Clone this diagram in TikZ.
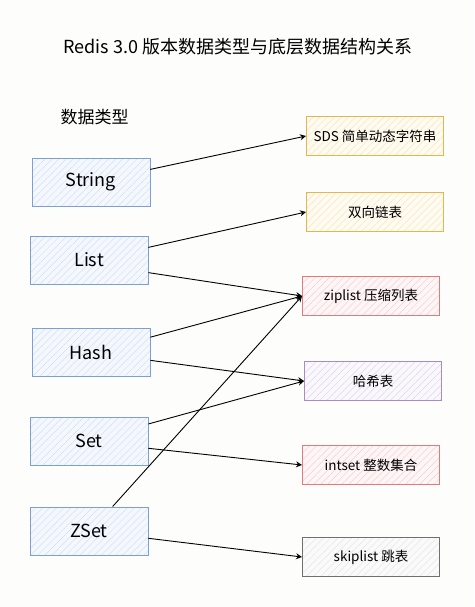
\documentclass[tikz,border=0pt]{standalone}
\usepackage{fontspec}
\setmainfont{Noto Sans CJK SC}
\usepackage{tikz}
\usetikzlibrary{arrows.meta,positioning,patterns.meta}

\definecolor{bg}{HTML}{FDFDFB}
\definecolor{blueline}{HTML}{7C9FD6}
\definecolor{bluefill}{HTML}{F4F8FD}
\definecolor{bluehatch}{HTML}{D3E0F3}
\definecolor{yellowline}{HTML}{E2B84A}
\definecolor{yellowfill}{HTML}{FFFBF0}
\definecolor{yellowhatch}{HTML}{F4E6C2}
\definecolor{redline}{HTML}{E07B7B}
\definecolor{redfill}{HTML}{FEF6F6}
\definecolor{redhatch}{HTML}{F4D0D0}
\definecolor{purpleline}{HTML}{A68BC4}
\definecolor{purplefill}{HTML}{FAF8FC}
\definecolor{purplehatch}{HTML}{E0D6EA}
\definecolor{grayline}{HTML}{707070}
\definecolor{grayfill}{HTML}{FAFAFA}
\definecolor{grayhatch}{HTML}{E6E6E6}

\begin{document}
\begin{tikzpicture}[x=1pt, y=-1pt, >={Stealth[open, length=6pt, width=6pt]}, thick,
    dtype/.style = {draw=blueline, line width=0.9pt, preaction={fill=bluefill},
        pattern={Lines[angle=45, distance=5pt, line width=0.5pt]}, pattern color=bluehatch,
        minimum width=118pt, minimum height=48pt, font=\fontsize{18}{20}\selectfont},
    impl/.style = {line width=0.9pt, minimum width=137pt, minimum height=39pt,
        pattern={Lines[angle=45, distance=5pt, line width=0.5pt]},
        font=\fontsize{13.5}{15}\selectfont},
    yellowbox/.style = {impl, draw=yellowline, preaction={fill=yellowfill}, pattern color=yellowhatch},
    redbox/.style = {impl, draw=redline, preaction={fill=redfill}, pattern color=redhatch},
    purplebox/.style = {impl, draw=purpleline, preaction={fill=purplefill}, pattern color=purplehatch},
    graybox/.style = {impl, draw=grayline, preaction={fill=grayfill}, pattern color=grayhatch},
    link/.style = {->, line width=0.9pt, black}]
    \fill[bg] (0,0) rectangle (474,607);
    \useasboundingbox (0,0) rectangle (474,607);

    % Titles
    \node (title) at (238,47) {\fontsize{18}{21}\selectfont Redis 3.0 版本数据类型与底层数据结构关系};
    \node[anchor=west] (types) at (57,117) {\fontsize{17}{20}\selectfont 数据类型};

    % Data types
    \node[dtype] (string) at (91,182) {String};
    \node[dtype] (list) at (89,260) {List};
    \node[dtype] (hash) at (91,352) {Hash};
    \node[dtype] (set) at (89,441) {Set};
    \node[dtype] (zset) at (89,531) {ZSet};

    % Underlying structures
    \node[yellowbox] (sds) at (375,136) {SDS 简单动态字符串};
    \node[yellowbox] (linked) at (375,212) {双向链表};
    \node[redbox] (ziplist) at (371,296) {ziplist 压缩列表};
    \node[purplebox] (dict) at (373,381) {哈希表};
    \node[redbox] (intset) at (371,465) {intset 整数集合};
    \node[graybox] (skiplist) at (371,557) {skiplist 跳表};

    % Directed edges
    \draw[link] (string.12) -- (sds.west);
    \draw[link] (list.12) -- (linked.west);
    \draw[link] (list.-12) -- (ziplist.west);
    \draw[link] (hash.14) -- (ziplist.west);
    \draw[link] (hash.-8) -- (dict.west);
    \draw[link] (set.16) -- (dict.west);
    \draw[link] (set.-7) -- (intset.west);
    \draw[link] (zset.46) -- (ziplist.west);
    \draw[link] (zset.-7) -- (skiplist.west);
\end{tikzpicture}
\end{document}
